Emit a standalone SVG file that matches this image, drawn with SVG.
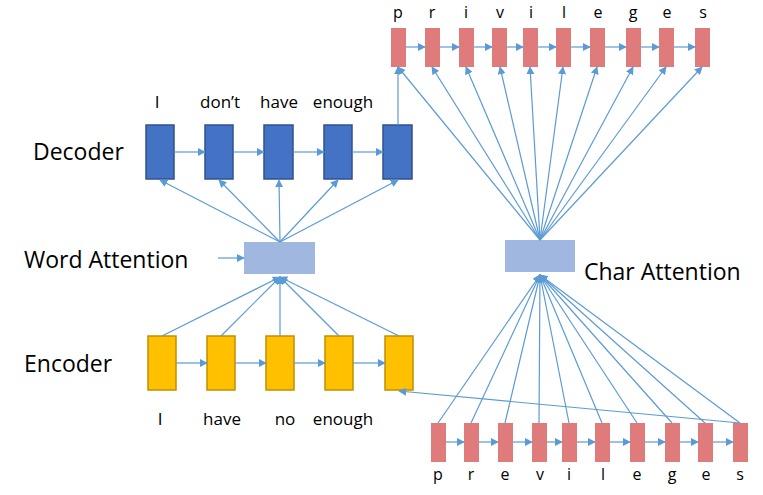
<svg xmlns="http://www.w3.org/2000/svg" width="763" height="495" viewBox="0 0 763 495">
<style>
text{font-family:"Open Sans","DejaVu Sans",sans-serif;fill:#000}
.lab{font-size:23px}
.w{font-size:17px;text-anchor:middle}
.c{font-size:16px;text-anchor:middle}
.dec{fill:#4472C4;stroke:#2F528F;stroke-width:1.5}
.enc{fill:#FFC000;stroke:#BF9000;stroke-width:1.5}
.chr{fill:#E07B7B}
.att{fill:#A0B8E0}
.l{stroke:#5B9BD5;stroke-width:1.2;fill:none}
</style>
<defs><marker id="a" viewBox="0 0 10 10" refX="9" refY="5" markerWidth="8" markerHeight="8" markerUnits="userSpaceOnUse" orient="auto"><path d="M0,0L10,5L0,10z" fill="#5B9BD5"/></marker></defs>
<g id="labels">
<text class="lab" x="33" y="160">Decoder</text>
<text class="lab" x="24" y="268">Word Attention</text>
<text class="lab" x="24" y="372">Encoder</text>
<text class="lab" x="584" y="280">Char Attention</text>
<text class="w" x="157" y="108">I</text><text class="w" x="220" y="108">don’t</text><text class="w" x="279" y="108">have</text><text class="w" x="343" y="108">enough</text>
<text class="w" x="160" y="425">I</text><text class="w" x="222" y="425">have</text><text class="w" x="285" y="425">no</text><text class="w" x="343" y="425">enough</text>
</g>
<g id="decoder">
<rect class="dec" x="146" y="125" width="28" height="54"/><rect class="dec" x="205" y="125" width="28" height="54"/><rect class="dec" x="264" y="125" width="29" height="54"/><rect class="dec" x="324" y="125" width="28" height="54"/><rect class="dec" x="383" y="125" width="29" height="54"/>
</g>
<g id="encoder">
<rect class="enc" x="148" y="336" width="28" height="54"/><rect class="enc" x="207" y="336" width="28" height="54"/><rect class="enc" x="266" y="336" width="28" height="54"/><rect class="enc" x="325" y="336" width="28" height="54"/><rect class="enc" x="385" y="336" width="28" height="54"/>
</g>
<g id="attention">
<rect class="att" x="244" y="242" width="71" height="32"/>
<rect class="att" x="505" y="240" width="70" height="32"/>
</g>
<g id="chars-top">
<rect class="chr" x="391" y="28" width="15" height="39"/><rect class="chr" x="425" y="28" width="15" height="39"/><rect class="chr" x="459" y="28" width="15" height="39"/><rect class="chr" x="492" y="28" width="15" height="39"/><rect class="chr" x="523" y="28" width="15" height="39"/><rect class="chr" x="556" y="28" width="15" height="39"/><rect class="chr" x="590" y="28" width="15" height="39"/><rect class="chr" x="626" y="28" width="15" height="39"/><rect class="chr" x="659" y="28" width="15" height="39"/><rect class="chr" x="695" y="28" width="15" height="39"/>
<text class="c" x="398" y="18">p</text><text class="c" x="432" y="18">r</text><text class="c" x="466" y="18">i</text><text class="c" x="500" y="18">v</text><text class="c" x="531" y="18">i</text><text class="c" x="564" y="18">l</text><text class="c" x="598" y="18">e</text><text class="c" x="633" y="18">g</text><text class="c" x="667" y="18">e</text><text class="c" x="703" y="18">s</text>
</g>
<g id="chars-bottom">
<rect class="chr" x="431" y="423" width="15" height="39"/><rect class="chr" x="464" y="423" width="15" height="39"/><rect class="chr" x="498" y="423" width="15" height="39"/><rect class="chr" x="532" y="423" width="15" height="39"/><rect class="chr" x="562" y="423" width="15" height="39"/><rect class="chr" x="595" y="423" width="15" height="39"/><rect class="chr" x="630" y="423" width="15" height="39"/><rect class="chr" x="665" y="423" width="15" height="39"/><rect class="chr" x="698" y="423" width="15" height="39"/><rect class="chr" x="733" y="423" width="15" height="39"/>
<text class="c" x="438" y="480">p</text><text class="c" x="471" y="480">r</text><text class="c" x="505" y="480">e</text><text class="c" x="540" y="480">v</text><text class="c" x="569" y="480">i</text><text class="c" x="603" y="480">l</text><text class="c" x="637" y="480">e</text><text class="c" x="672" y="480">g</text><text class="c" x="706" y="480">e</text><text class="c" x="740" y="480">s</text>
</g>
<g id="connectors" class="l" marker-end="url(#a)">
<path d="M174,152H205"/><path d="M233,152H264"/><path d="M293,152H324"/><path d="M352,152H383"/>
<path d="M176,363H207"/><path d="M235,363H266"/><path d="M294,363H325"/><path d="M353,363H385"/>
<path d="M406,47H425"/><path d="M440,47H459"/><path d="M474,47H492"/><path d="M507,47H523"/><path d="M538,47H556"/><path d="M571,47H590"/><path d="M605,47H626"/><path d="M641,47H659"/><path d="M674,47H695"/>
<path d="M446,442H464"/><path d="M479,442H498"/><path d="M513,442H532"/><path d="M547,442H562"/><path d="M577,442H595"/><path d="M610,442H630"/><path d="M645,442H665"/><path d="M680,442H698"/><path d="M713,442H733"/>
<path d="M280,242L160,180"/><path d="M280,242L219,180"/><path d="M280,242L279,180"/><path d="M280,242L338,180"/><path d="M280,242L398,180"/>
<path d="M218,258H244"/>
<path d="M162,336L280,277"/><path d="M221,336L280,277"/><path d="M280,336L280,277"/><path d="M339,336L280,277"/><path d="M399,336L280,277"/>
<path d="M398,125V67"/>
<path d="M740,423L399,391"/>
<path d="M540,240L398,67"/><path d="M540,240L432,67"/><path d="M540,240L466,67"/><path d="M540,240L500,67"/><path d="M540,240L530,67"/><path d="M540,240L563,67"/><path d="M540,240L597,67"/><path d="M540,240L633,67"/><path d="M540,240L666,67"/><path d="M540,240L702,67"/>
<path d="M438,423L540,275"/><path d="M471,423L540,275"/><path d="M505,423L540,275"/><path d="M539,423L540,275"/><path d="M569,423L540,275"/><path d="M602,423L540,275"/><path d="M637,423L540,275"/><path d="M672,423L540,275"/><path d="M705,423L540,275"/><path d="M740,423L540,275"/>
</g>
</svg>
